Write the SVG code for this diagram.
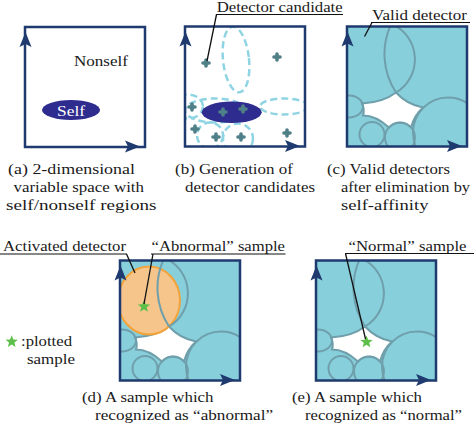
<svg xmlns="http://www.w3.org/2000/svg" width="474" height="425" viewBox="0 0 474 425" font-family="Liberation Serif, serif">
<style>
.t{font-size:15px;fill:#1a1a1a}
.box{fill:none;stroke:#1e3a6e;stroke-width:2.5}
.arw{fill:#1e3a6e}
.cy{fill:#88cfdc}
.hole{fill:#ffffff;stroke:#6f9fab;stroke-width:2}
.ol{fill:none;stroke:#6f9fab;stroke-width:2}
.dash{fill:none;stroke:#8fd4e3;stroke-width:2.5;stroke-dasharray:7 4}
.cross{fill:none;stroke:#4f7f87;stroke-width:3.6;stroke-linecap:round}
.lead{fill:none;stroke:#111;stroke-width:1.3}
.ul{fill:none;stroke:#111;stroke-width:1.2}
.star{fill:#5cbf4a}
</style>
<defs>
<clipPath id="bx"><rect x="0" y="0" width="120" height="120"/></clipPath>
<g id="axes">
<rect class="box" x="0" y="0" width="120" height="120"/>
<polygon class="arw" points="0.5,5 6.5,20 0.5,17 -5.5,20"/>
<polygon class="arw" points="115,119.5 100,113.5 103,119.5 100,125.5"/>
</g>
<g id="detbg">
<rect class="cy" x="0" y="0" width="120" height="120"/>
<path class="hole" d="M49 66 Q60 78 76 81 Q67 89 64 101 A15 15 0 0 0 42 101 Q29 89 16 89 Q18 83 15 77 Q36 76 49 66 Z"/>
</g>
<g id="detlines">
<path class="ol" d="M44 -2 A70 70 0 0 0 49 66"/>
<path class="ol" d="M49 66 A38.6 38.6 0 0 0 46 -2"/>
<circle class="ol" cx="101" cy="106" r="35"/>
<ellipse class="ol" cx="2" cy="80" rx="14" ry="11"/>
<circle class="ol" cx="25" cy="108" r="12.5"/>
<circle class="ol" cx="53" cy="111" r="15"/>
</g>
<path id="plus" class="cross" d="M-3 0H3M0 -3V3"/>
<polygon id="star" class="star" points="0,-6.5 1.66,-2.28 6.18,-2.0 2.68,0.87 3.82,5.26 0,2.82 -3.82,5.26 -2.68,0.87 -6.18,-2.0 -1.66,-2.28"/>
</defs>

<!-- (a) -->
<g id="panel-a">
<g transform="translate(25,27)"><use href="#axes"/></g>
<text class="t" x="74" y="66" textLength="54" lengthAdjust="spacingAndGlyphs">Nonself</text>
<ellipse cx="71" cy="110" rx="29" ry="10" fill="#2f2c8f"/>
<text class="t" x="57" y="115.5" textLength="28" lengthAdjust="spacingAndGlyphs" style="fill:#ffffff">Self</text>
<text class="t" x="8" y="174" textLength="127" lengthAdjust="spacingAndGlyphs">(a) 2-dimensional</text>
<text class="t" x="13.5" y="192" textLength="130.5" lengthAdjust="spacingAndGlyphs">variable space with</text>
<text class="t" x="6" y="210" textLength="150.5" lengthAdjust="spacingAndGlyphs">self/nonself regions</text>
</g>

<!-- (b) -->
<g id="panel-b">
<g transform="translate(185,26.5)">
<g clip-path="url(#bx)">
<ellipse class="dash" cx="51" cy="33" rx="13" ry="33" transform="rotate(-6 51 33)"/>
<ellipse class="dash" cx="99" cy="80" rx="24" ry="8"/>
<ellipse class="dash" cx="3" cy="80" rx="15" ry="12"/>
<ellipse class="dash" cx="30" cy="84" rx="30" ry="12"/>
<circle class="dash" cx="25" cy="109" r="13"/>
<circle class="dash" cx="53" cy="112" r="15"/>
</g>
<ellipse cx="46.7" cy="85.8" rx="30" ry="10.8" fill="#2f2c8f"/>
<use href="#axes"/>
</g>
<use href="#plus" x="206" y="63"/>
<use href="#plus" x="277" y="57"/>
<use href="#plus" x="192" y="107"/>
<use href="#plus" x="223" y="112"/>
<use href="#plus" x="243" y="109"/>
<use href="#plus" x="195" y="129"/>
<use href="#plus" x="216" y="137"/>
<use href="#plus" x="241" y="137"/>
<use href="#plus" x="287" y="133"/>
<text class="t" x="175" y="174" textLength="118" lengthAdjust="spacingAndGlyphs">(b) Generation of</text>
<text class="t" x="185" y="192" textLength="130" lengthAdjust="spacingAndGlyphs">detector candidates</text>
</g>

<!-- (c) -->
<g id="panel-c">
<g transform="translate(347,26.5)">
<g clip-path="url(#bx)"><use href="#detbg"/><use href="#detlines"/></g>
<use href="#axes"/>
</g>
<text class="t" x="327" y="174" textLength="123" lengthAdjust="spacingAndGlyphs">(c) Valid detectors</text>
<text class="t" x="341" y="192" textLength="129" lengthAdjust="spacingAndGlyphs">after elimination by</text>
<text class="t" x="341" y="210" textLength="87.5" lengthAdjust="spacingAndGlyphs">self-affinity</text>
</g>

<!-- (d) -->
<g id="panel-d">
<g transform="translate(120,260.5)">
<g clip-path="url(#bx)">
<use href="#detbg"/>
<ellipse cx="29" cy="40" rx="31" ry="34" fill="#f5c58c" stroke="#f2a33a" stroke-width="2"/>
<use href="#detlines"/>
</g>
<use href="#axes"/>
</g>
<use href="#star" x="144" y="306.5"/>
<text class="t" x="82" y="401.5" textLength="131.5" lengthAdjust="spacingAndGlyphs">(d) A sample which</text>
<text class="t" x="95" y="419.5" textLength="178" lengthAdjust="spacingAndGlyphs">recognized as “abnormal”</text>
</g>

<!-- (e) -->
<g id="panel-e">
<g transform="translate(316,260.5)">
<g clip-path="url(#bx)"><use href="#detbg"/><use href="#detlines"/></g>
<use href="#axes"/>
</g>
<use href="#star" x="366.5" y="342"/>
<text class="t" x="292" y="401.5" textLength="130" lengthAdjust="spacingAndGlyphs">(e) A sample which</text>
<text class="t" x="305" y="419.5" textLength="157" lengthAdjust="spacingAndGlyphs">recognized as “normal”</text>
</g>

<!-- legend -->
<g id="legend">
<use href="#star" x="11.7" y="341.7"/>
<text class="t" x="21" y="346" textLength="51" lengthAdjust="spacingAndGlyphs">:plotted</text>
<text class="t" x="27" y="364" textLength="48" lengthAdjust="spacingAndGlyphs">sample</text>
</g>

<!-- labels -->
<g id="label-candidate">
<text class="t" x="216.7" y="12" textLength="126" lengthAdjust="spacingAndGlyphs">Detector candidate</text>
</g>
<g id="label-valid">
<text class="t" x="372" y="19.5" textLength="95" lengthAdjust="spacingAndGlyphs">Valid detector</text>
</g>
<g id="label-activated">
<text class="t" x="3" y="251" textLength="123" lengthAdjust="spacingAndGlyphs">Activated detector</text>
</g>
<g id="label-abnormal">
<text class="t" x="151.5" y="251" textLength="133.5" lengthAdjust="spacingAndGlyphs">“Abnormal” sample</text>
</g>
<g id="label-normal">
<text class="t" x="348.5" y="251" textLength="118" lengthAdjust="spacingAndGlyphs">“Normal” sample</text>
</g>

<!-- connectors -->
<g id="connectors">
<path class="ul" d="M216 14.5H343"/>
<path class="lead" d="M216.5 14.5L207 61"/>
<path class="ul" d="M371 22.5H470"/>
<path class="lead" d="M372 22.5L364.5 36.5"/>
<path class="ul" d="M0 254H127"/>
<path class="lead" d="M126.5 254L135 273"/>
<path class="ul" d="M151 254H285.5"/>
<path class="lead" d="M153 254L144 304"/>
<path class="ul" d="M345 253.5H474"/>
<path class="lead" d="M345.5 253.5L365.5 339"/>
</g>
</svg>
